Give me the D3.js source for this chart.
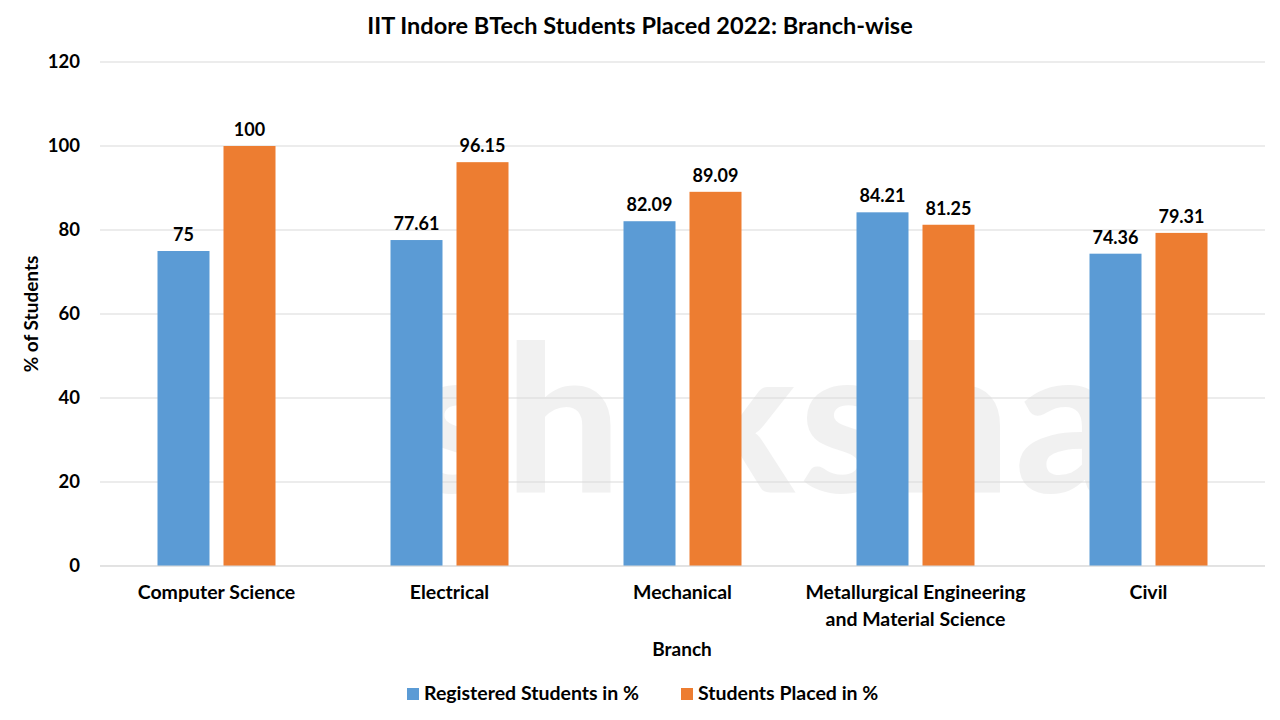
<!DOCTYPE html>
<html><head><meta charset="utf-8">
<script src="https://cdn.jsdelivr.net/npm/d3@7"></script>
<style>body{margin:0;background:#fff;} svg{display:block;}</style>
</head><body>
<svg id="c" width="1280" height="720"></svg>
<script>
const categories = ["Computer Science","Electrical","Mechanical","Metallurgical Engineering\nand Material Science","Civil"];
const registered = [75, 77.61, 82.09, 84.21, 74.36];
const placed = [100, 96.15, 89.09, 81.25, 79.31];
const seriesNames = ["Registered Students in %","Students Placed in %"];
const yTicks = [0,20,40,60,80,100,120];

const colors = ["#5B9BD5","#ED7D31"];
const font = "Lato, 'Open Sans', sans-serif";
const svg = d3.select("#c");
const m = {l:100, r:1265, t:62, b:566};

const x = d3.scaleBand().domain(categories).range([m.l, m.r]);
const y = d3.scaleLinear().domain([0,120]).range([m.b, m.t]);

// watermark
const wm = svg.append("g").attr("opacity",0.07);
wm.append("text").attr("x",410).attr("y",492).attr("font-family",font).attr("font-weight",900)
  .attr("font-size",205).attr("fill","#444").attr("textLength",710).text("shiksha");

// grid
svg.append("g").selectAll("line").data(yTicks).join("line")
  .attr("x1",m.l).attr("x2",m.r).attr("y1",d=>y(d)).attr("y2",d=>y(d))
  .attr("stroke","#D9D9D9").attr("stroke-width",1);

// y tick labels
const yAxis = d3.axisLeft(y).tickValues(yTicks).tickSize(0).tickPadding(20);
const ya = svg.append("g").attr("transform",`translate(${m.l},0)`).call(yAxis);
ya.select(".domain").remove();
ya.selectAll("text").attr("font-family",font).attr("font-weight",700).attr("font-size",18.5).attr("fill","#000");

const bw = 52, gap = 7;
const series = [registered, placed];
series.forEach((vals,si)=>{
  const g = svg.append("g");
  g.selectAll("rect").data(categories).join("rect")
    .attr("x",(c)=> x(c)+x.bandwidth()/2 + (si===0 ? -gap-bw : gap))
    .attr("width",bw)
    .attr("y",(c,i)=>y(vals[i]))
    .attr("height",(c,i)=>y(0)-y(vals[i]))
    .attr("fill",colors[si]);
  g.selectAll("text").data(categories).join("text")
    .attr("x",(c)=> x(c)+x.bandwidth()/2 + (si===0 ? -gap-bw/2 : gap+bw/2))
    .attr("y",(c,i)=>y(vals[i])-10)
    .attr("text-anchor","middle").attr("font-family",font).attr("font-weight",700)
    .attr("font-size",18).attr("fill","#000")
    .text((c,i)=>vals[i]);
});

// x axis baseline
svg.append("line").attr("x1",m.l).attr("x2",m.r).attr("y1",y(0)).attr("y2",y(0)).attr("stroke","#D9D9D9");

// x labels
const xl = svg.append("g");
categories.forEach(c=>{
  const t = xl.append("text").attr("x",x(c)+x.bandwidth()/2).attr("y",599)
    .attr("text-anchor","middle").attr("font-family",font).attr("font-weight",700)
    .attr("font-size",19.5).attr("fill","#000");
  c.split("\n").forEach((line,i)=>{
    t.append("tspan").attr("x",x(c)+x.bandwidth()/2).attr("dy",i===0?0:27).text(line);
  });
});

// title
svg.append("text").attr("x",640).attr("y",34).attr("text-anchor","middle")
  .attr("font-family",font).attr("font-weight",700).attr("font-size",23.5).attr("fill","#000")
  .text("IIT Indore BTech Students Placed 2022: Branch-wise");

// axis titles
svg.append("text").attr("x",682).attr("y",656).attr("text-anchor","middle")
  .attr("font-family",font).attr("font-weight",700).attr("font-size",19).text("Branch");
svg.append("text").attr("transform","translate(38,314) rotate(-90)").attr("text-anchor","middle")
  .attr("font-family",font).attr("font-weight",700).attr("font-size",19).text("% of Students");

// legend
const legX = [407, 681];
seriesNames.forEach((n,i)=>{
  svg.append("rect").attr("x",legX[i]).attr("y",688).attr("width",12).attr("height",12).attr("fill",colors[i]);
  svg.append("text").attr("x",legX[i]+17).attr("y",700).attr("font-family",font).attr("font-weight",700)
    .attr("font-size",19.5).text(n);
});
</script>
</body></html>
